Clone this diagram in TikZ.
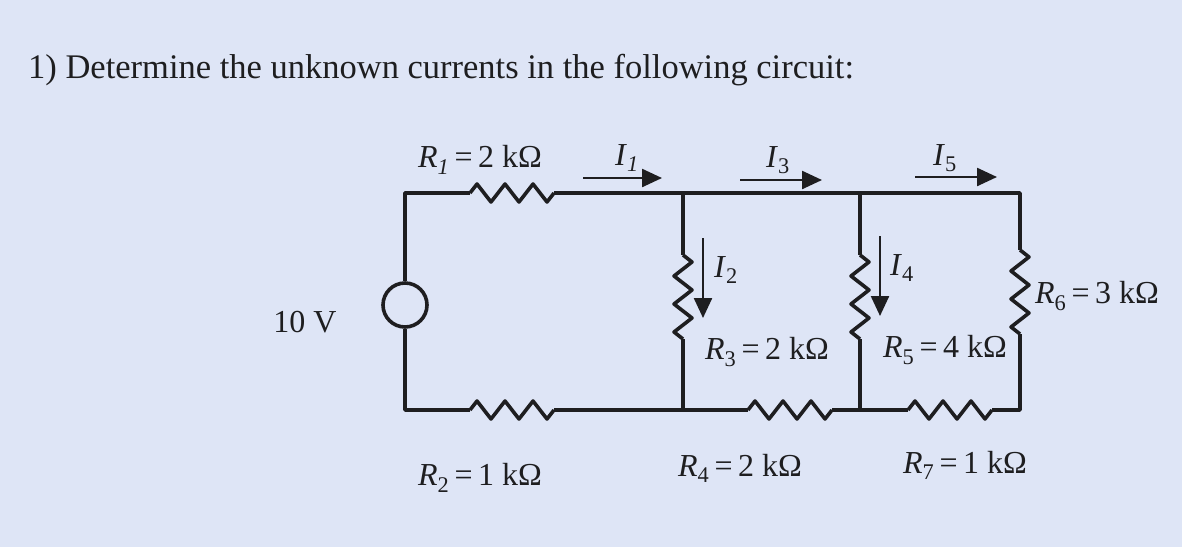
\documentclass[tikz,border=0pt]{standalone}
\usepackage{fontspec}
\setmainfont{Liberation Serif}
\usetikzlibrary{decorations.pathmorphing,arrows.meta}
\definecolor{bg}{RGB}{222,229,246}
\definecolor{ink}{RGB}{30,30,32}
\begin{document}
\begin{tikzpicture}[x=1pt,y=-1pt,
  wire/.style={draw=ink,line width=3.6pt,line join=round},
  zz/.style={wire,decorate,decoration={zigzag,amplitude=9pt,segment length=28pt}},
  cur/.style={draw=ink,line width=2.4pt,-{Triangle[length=20pt,width=18pt]}},
  lbl/.style={text=ink,font=\fontsize{32}{36}\selectfont,inner sep=0pt}]
\fill[bg] (0,0) rectangle (1182,547);
\useasboundingbox (0,0) rectangle (1182,547);
\node[lbl,anchor=west,font=\fontsize{34.5}{38}\selectfont] (title) at (28,70) {1) Determine the unknown currents in the following circuit:};
\coordinate (tl) at (405,193); \coordinate (bl) at (405,410);
\coordinate (t2) at (683,193); \coordinate (b2) at (683,410);
\coordinate (t3) at (860,193); \coordinate (b3) at (860,410);
\coordinate (tr) at (1020,193); \coordinate (br) at (1020,410);
\node[circle,draw=ink,line width=3.6pt,minimum size=44pt,inner sep=0pt] (src) at (405,305) {};
\draw[wire] (src.north) -- (tl) -- (470,193);
\draw[zz] (470,193) -- (554,193);
\draw[wire] (554,193) -- (t2) -- (t3) -- (tr) -- (1020,250);
\draw[zz] (1020,250) -- (1020,334);
\draw[wire] (1020,334) -- (br) -- (992,410);
\draw[zz] (992,410) -- (908,410);
\draw[wire] (908,410) -- (b3) -- (832,410);
\draw[zz] (832,410) -- (748,410);
\draw[wire] (748,410) -- (b2) -- (554,410);
\draw[zz] (554,410) -- (470,410);
\draw[wire] (470,410) -- (bl) -- (src.south);
\draw[wire] (t2) -- (683,255);
\draw[zz] (683,255) -- (683,339);
\draw[wire] (683,339) -- (b2);
\draw[wire] (t3) -- (860,255);
\draw[zz] (860,255) -- (860,339);
\draw[wire] (860,339) -- (b3);
\coordinate (a1) at (583,178); \coordinate (a1e) at (662,178);
\coordinate (a3) at (740,180); \coordinate (a3e) at (822,180);
\coordinate (a5) at (915,177); \coordinate (a5e) at (997,177);
\coordinate (a2) at (703,238); \coordinate (a2e) at (703,318);
\coordinate (a4) at (880,236); \coordinate (a4e) at (880,316);
\draw[cur] (a1) -- (a1e);
\draw[cur] (a3) -- (a3e);
\draw[cur] (a5) -- (a5e);
\draw[cur] (a2) -- (a2e);
\draw[cur] (a4) -- (a4e);
\node[lbl] (l1) at (627,158) {\textit{I}\textsubscript{\textit{1}}};
\node[lbl] (l3) at (778,160) {\textit{I}\textsubscript{3}};
\node[lbl] (l5) at (945,158) {\textit{I}\textsubscript{5}};
\node[lbl] (l2) at (726,270) {\textit{I}\textsubscript{2}};
\node[lbl] (l4) at (902,268) {\textit{I}\textsubscript{4}};
\node[lbl] (r1) at (480,160) {\textit{R}\textsubscript{\textit{1}}\,=\,2 kΩ};
\node[lbl] (r2) at (480,478) {\textit{R}\textsubscript{2}\,=\,1 kΩ};
\node[lbl] (r3) at (767,352) {\textit{R}\textsubscript{3}\,=\,2 kΩ};
\node[lbl] (r4) at (740,468) {\textit{R}\textsubscript{4}\,=\,2 kΩ};
\node[lbl] (r5) at (945,350) {\textit{R}\textsubscript{5}\,=\,4 kΩ};
\node[lbl] (r6) at (1097,296) {\textit{R}\textsubscript{6}\,=\,3 kΩ};
\node[lbl] (r7) at (965,465) {\textit{R}\textsubscript{7}\,=\,1 kΩ};
\node[lbl] (v) at (305,322) {10 V};
\end{tikzpicture}
\end{document}
